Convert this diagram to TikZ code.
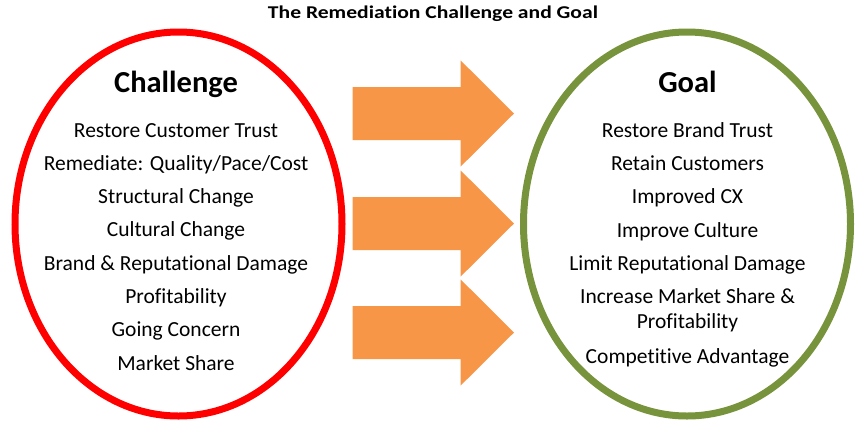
\documentclass[tikz,border=0pt]{standalone}
\usepackage{fontspec}
\setmainfont{Carlito}[Ligatures=NoCommon]
\usetikzlibrary{shapes.geometric}
\definecolor{chalred}{HTML}{FF0000}
\definecolor{goalgreen}{HTML}{77933C}
\definecolor{arroworange}{HTML}{F79646}
\begin{document}
\begin{tikzpicture}[x=1pt, y=-1pt,
    item/.style={font=\fontsize{21.5}{25}\selectfont, align=center, inner sep=0pt, anchor=base},
    headline/.style={font=\bfseries\fontsize{30.5}{35}\selectfont, inner sep=0pt, anchor=base},
    ring/.style={ellipse, line width=7pt, minimum width=327pt, minimum height=384pt, inner sep=0pt},
    blockarr/.style={fill=arroworange}
  ]
  \useasboundingbox (0,0) rectangle (862,432);
  \node[font=\bfseries\fontsize{18}{21}\selectfont, inner sep=0pt, anchor=base] (title) at (433,18) {\scalebox{1.2}[1]{The Remediation Challenge and Goal}};

  % the two ellipses
  \node[ring, draw=chalred] (chal) at (178.5,224) {};
  \node[ring, draw=goalgreen] (goal) at (687,224) {};

  % block arrows in between
  \foreach \y in {113.5,223.5,332.5}
    \fill[blockarr] (352.7,\y-26.5) -- (460.7,\y-26.5) -- (460.7,\y-53) -- (514,\y)
      -- (460.7,\y+53) -- (460.7,\y+26.5) -- (352.7,\y+26.5) -- cycle;

  % left side
  \node[headline] (chalhead) at (176,92) {Challenge};
  \foreach \txt [count=\i] in {Restore Customer Trust, Remediate: Quality/Pace/Cost,
      Structural Change, Cultural Change, Brand \& Reputational Damage,
      Profitability, Going Concern, Market Share}
    \node[item] (c\i) at (176,{137+33.3*(\i-1)}) {\txt};

  % right side
  \node[headline] (goalhead) at (687.5,92) {Goal};
  \foreach \txt/\yy [count=\i] in {Restore Brand Trust/137, Retain Customers/170,
      Improved CX/203.5, Improve Culture/237, Limit Reputational Damage/270,
      {Increase Market Share \&\\Profitability}/328, Competitive Advantage/363}
    \node[item] (g\i) at (687.5,\yy) {\txt};
\end{tikzpicture}
\end{document}
